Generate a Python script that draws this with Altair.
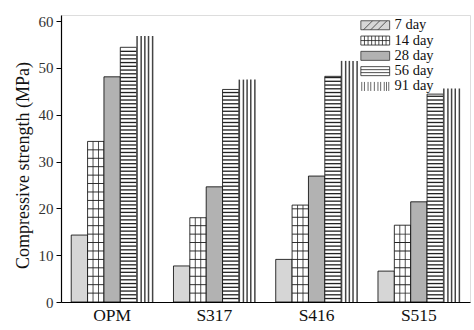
import altair as alt
import pandas as pd
import numpy as np

categories = ["OPM", "S317", "S416", "S515"]
days = ["7 day", "14 day", "28 day", "56 day", "91 day"]
v7 = [14.3, 7.7, 9.1, 6.6]
v14 = [34.3, 18.0, 20.7, 16.4]
v28 = [48.1, 24.6, 26.9, 21.4]
v56 = [54.4, 45.4, 48.2, 44.4]
v91 = [56.8, 47.5, 51.5, 45.6]

series = dict(zip(days, [v7, v14, v28, v56, v91]))
rows = []
for d, vals in series.items():
    for c, v in zip(categories, vals):
        rows.append({"cat": c, "day": d, "value": v})
df = pd.DataFrame(rows)

# pattern stripes (style only, derived from bar heights)
stripes = []
for c, v in zip(categories, v56):
    for lv in np.arange(0.6, v - 0.2, 0.8):
        stripes.append({"cat": c, "day": "56 day", "lo": lv, "hi": lv + 0.28})
for c, v in zip(categories, v14):
    for lv in np.arange(1.8, v - 0.2, 1.8):
        stripes.append({"cat": c, "day": "14 day", "lo": lv, "hi": lv + 0.2})
sdf = pd.DataFrame(stripes)

fill_colors = ["#d6d6d6", "#ffffff", "#b2b2b2", "#ffffff", "#ffffff"]
stroke_colors = ["#333333", "#222222", "#333333", "#222222", "#444444"]
shapes = [
    "M-3.2,-1H3.2V1H-3.2Z M-2.6,1L-0.6,-1 M-1.0,1L1.0,-1 M0.6,1L2.6,-1",
    "M-3.2,-1H3.2V1H-3.2Z M-3.2,0H3.2 M-2.4,-1V1 M-1.6,-1V1 M-0.8,-1V1 M0,-1V1 M0.8,-1V1 M1.6,-1V1 M2.4,-1V1",
    "M-3.2,-1H3.2V1H-3.2Z",
    "M-3.2,-1H3.2V1H-3.2Z M-3.2,-0.33H3.2 M-3.2,0.33H3.2",
    "M-3.0,-1V1 M-2.4,-1V1 M-1.6,-1V1 M-1.0,-1V1 M-0.2,-1V1 M0.6,-1V1 M1.2,-1V1 M2.0,-1V1 M2.5,-1V1 M3.0,-1V1",
]

font = "Liberation Serif"

legend = alt.Legend(title=None, orient="none", legendX=307, legendY=3,
                    symbolSize=81, symbolStrokeWidth=0.8, symbolOpacity=1,
                    labelFont=font, labelFontSize=14.5, labelColor="#111",
                    labelOffset=12, rowPadding=0.3, padding=0,
                    labelExpr="datum.label == '7 day' ? '\u20027 day' : datum.label")

xenc = alt.X("cat:N", sort=categories,
             scale=alt.Scale(domain=categories, paddingInner=0.2, paddingOuter=0.1),
             axis=alt.Axis(title=None, ticks=False, labelAngle=0,
                           labelFontSize=17.5, labelColor="#111", labelPadding=4,
                           domainColor="black", domainWidth=1.2))
xoff = alt.XOffset("day:N", sort=days,
                   scale=alt.Scale(domain=days, paddingInner=0, paddingOuter=0))
yscale = alt.Scale(domain=[0, 61.3], nice=False)
yaxis = alt.Axis(values=list(range(0, 61, 5)),
                 labelExpr="datum.value % 10 == 0 ? datum.label : ''",
                 tickSize={"condition": {"test": "datum.value % 10 != 0", "value": 3}, "value": 5},
                 title="Compressive strength (MPa)", titleFontSize=18,
                 titleFontWeight="normal", titleColor="#111", titlePadding=6,
                 titleY=150,
                 labelFontSize=15, labelColor="#333", labelPadding=3,
                 grid=False, domainColor="black", domainWidth=1.2, tickColor="black")

bar_fill = alt.when(alt.datum.day == "7 day").then(alt.value(fill_colors[0])) \
    .when(alt.datum.day == "28 day").then(alt.value(fill_colors[2])) \
    .otherwise(alt.value("#ffffff"))

base = alt.Chart(df)

bars = base.mark_bar(stroke="black", strokeWidth=0.8).encode(
    x=xenc, xOffset=xoff,
    y=alt.Y("value:Q", scale=yscale, axis=yaxis),
    fill=bar_fill,
    strokeOpacity=alt.when(alt.datum.day == "91 day").then(alt.value(0)).otherwise(alt.value(1)),
)

legend_layer = base.transform_filter("datum.value < 0").mark_point(
    filled=True, strokeWidth=0.8, opacity=1).encode(
    x=alt.X("cat:N", sort=categories), xOffset=xoff,
    y=alt.Y("value:Q"),
    fill=alt.Fill("day:N", scale=alt.Scale(domain=days, range=fill_colors), legend=legend),
    stroke=alt.Stroke("day:N", scale=alt.Scale(domain=days, range=stroke_colors), legend=legend),
    shape=alt.Shape("day:N", scale=alt.Scale(domain=days, range=shapes), legend=legend),
)

stripe_bars = alt.Chart(sdf).mark_bar(color="#222").encode(
    x=alt.X("cat:N", sort=categories), xOffset=xoff,
    y=alt.Y("lo:Q"), y2="hi:Q",
)

layers = [bars, stripe_bars]
for bp in [0.2 + 0.2 / 3, 0.2 + 0.4 / 3]:
    layers.append(base.transform_filter("datum.day == '14 day'").mark_rule(
        color="#222", strokeWidth=0.8).encode(
        x=alt.X("cat:N", sort=categories, bandPosition=bp),
        y=alt.Y("value:Q"), y2=alt.datum(0)))
for bp in [0.805, 0.855, 0.9, 0.945, 0.995]:
    layers.append(base.transform_filter("datum.day == '91 day'").mark_rule(
        color="#444", strokeWidth=1.5).encode(
        x=alt.X("cat:N", sort=categories, bandPosition=bp),
        y=alt.Y("value:Q"), y2=alt.datum(0)))
layers.append(legend_layer)

chart = alt.layer(*layers).properties(
    width=409, height=287,
    autosize=alt.AutoSizeParams(type="none"),
    padding={"left": 61, "top": 15, "right": 4, "bottom": 28},
).configure_view(stroke="black", strokeWidth=1.2).configure_axis(
    labelFont=font, titleFont=font
).configure_legend(labelFont=font).configure(background="white", font=font)

chart.save("out.html", embed_options={"renderer": "svg", "actions": False})
